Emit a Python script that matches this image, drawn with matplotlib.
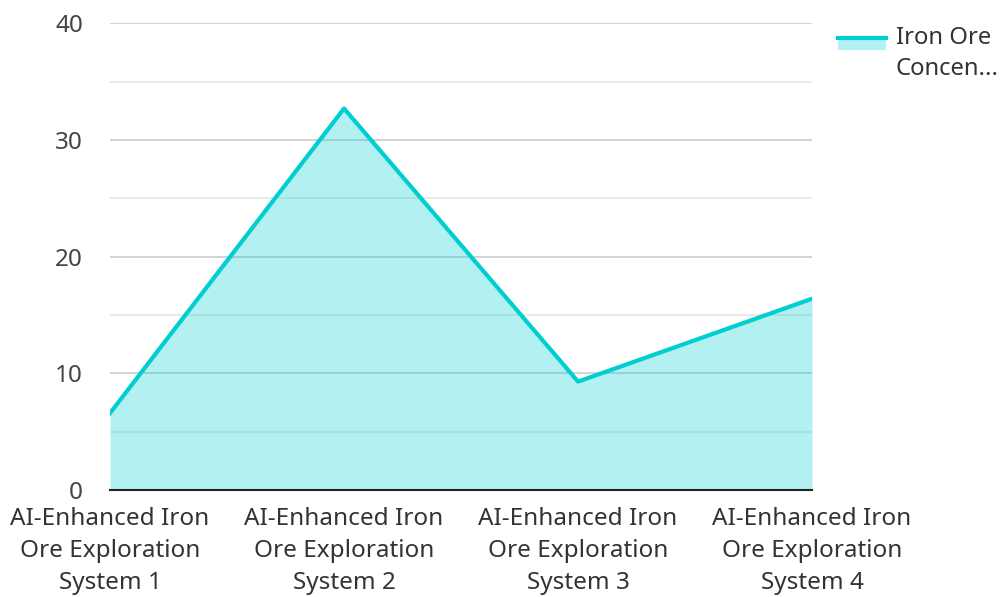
import matplotlib
matplotlib.use("Agg")
import matplotlib.pyplot as plt
from matplotlib.patches import Rectangle
from matplotlib.lines import Line2D
from matplotlib.legend_handler import HandlerBase

plt.rcParams['font.family'] = ['Noto Sans', 'DejaVu Sans']

systems = ["AI-Enhanced Iron\nOre Exploration\nSystem 1",
           "AI-Enhanced Iron\nOre Exploration\nSystem 2",
           "AI-Enhanced Iron\nOre Exploration\nSystem 3",
           "AI-Enhanced Iron\nOre Exploration\nSystem 4"]
concentration = [6.6, 32.7, 9.3, 16.4]
series_name = "Iron Ore\nConcen..."

line_color = "#00CED1"


class AreaHandler(HandlerBase):
    # filled box with the line along its top edge, lifted to the first text line
    def create_artists(self, legend, orig_handle, xdescent, ydescent,
                       width, height, fontsize, trans):
        top = height / 2 + 12.0
        rect = Rectangle((-xdescent, top - 8.6), width, 8.6,
                         facecolor=line_color, alpha=0.3, linewidth=0, transform=trans)
        ln = Line2D([-xdescent, -xdescent + width], [top, top],
                    color=line_color, linewidth=3, transform=trans)
        return [rect, ln]


fig = plt.figure(figsize=(10.04, 5.97), dpi=100)
ax = fig.add_axes([0.1096, 0.179, 0.6992, 0.782])

x = list(range(len(systems)))
ax.fill_between(x, concentration, 0, color=line_color, alpha=0.3, linewidth=0, zorder=1)
ax.plot(x, concentration, color=line_color, linewidth=3, zorder=3)

ax.set_xlim(0, len(systems) - 1)
ax.set_ylim(0, 40)
ax.set_yticks([0, 10, 20, 30, 40])
ax.set_yticks([5, 15, 25, 35], minor=True)
ax.set_axisbelow(True)
ax.grid(axis="y", which="major", color="#cccccc", linewidth=1.2)
ax.grid(axis="y", which="minor", color="#e6e6e6", linewidth=1.2)

ax.set_xticks(x)
ax.set_xticklabels(systems, fontsize=17.5, color="#333333", linespacing=1.45)
ax.tick_params(axis="y", labelsize=17.5, labelcolor="#444444", length=0, pad=19.5)
ax.tick_params(axis="x", length=0, pad=12)
ax.tick_params(which="minor", length=0)

for side in ["top", "right", "left"]:
    ax.spines[side].set_visible(False)
ax.spines["bottom"].set_color("#222222")
ax.spines["bottom"].set_linewidth(1.5)
ax.spines["bottom"].set_zorder(4)

leg = fig.legend(["area"], [series_name], loc="upper left",
                 bbox_to_anchor=(0.813, 0.993), frameon=False, fontsize=17.2,
                 handlelength=2.0, handleheight=0.6, handletextpad=0.42,
                 labelcolor="#333333",
                 handler_map={str: AreaHandler()})
leg.get_texts()[0].set_linespacing(1.42)

fig.savefig("out.png", dpi=100)
